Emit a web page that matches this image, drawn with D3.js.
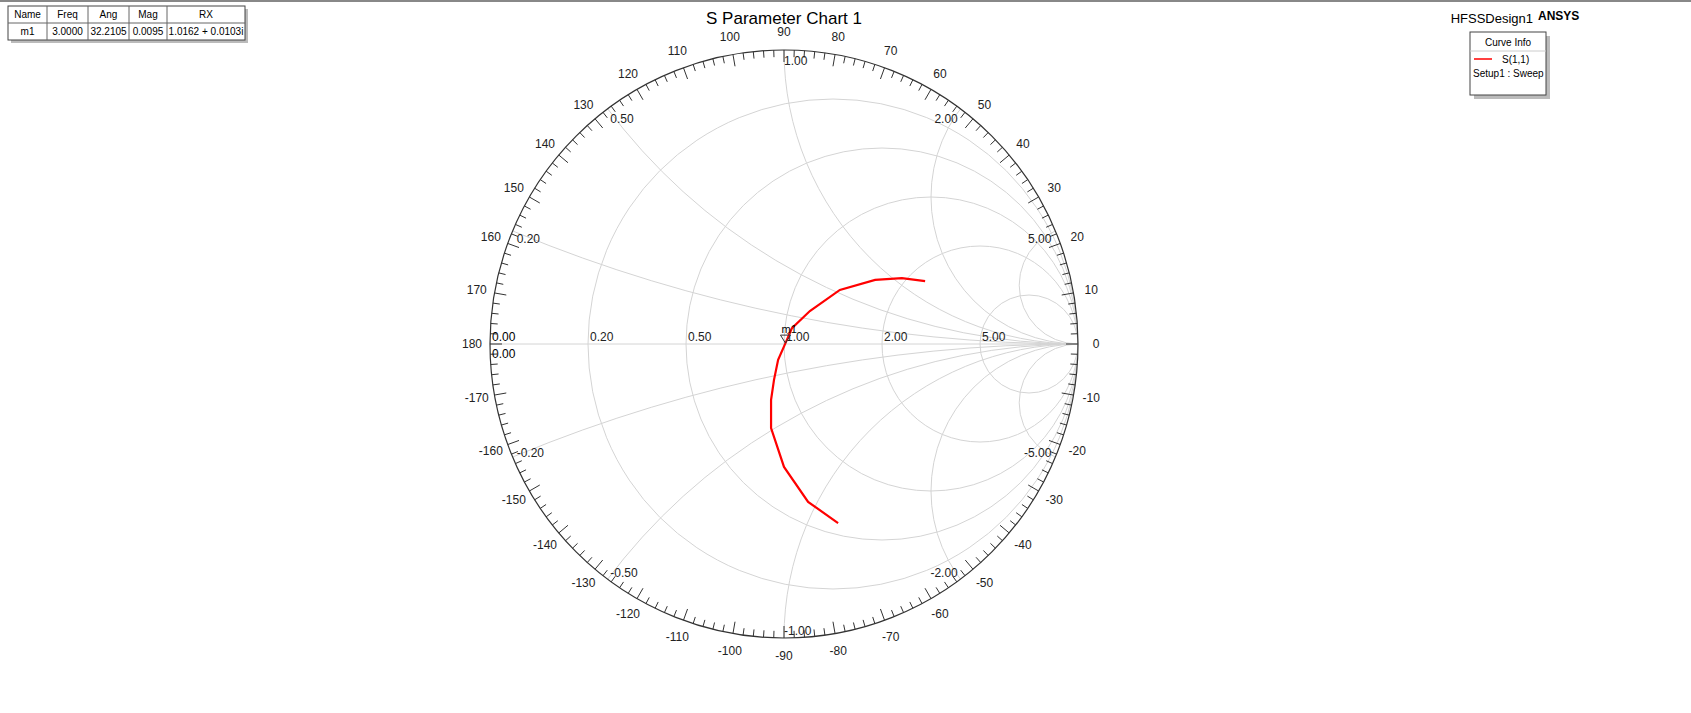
<!DOCTYPE html>
<html><head><meta charset="utf-8">
<script src="https://cdn.jsdelivr.net/npm/d3@7"></script>
<style>body{margin:0;background:#fff;font-family:Arial,"Liberation Sans",sans-serif}</style>
</head><body><svg id="c" width="1691" height="713"></svg>
<script>
const gammaRe=[0.184,0.082,0.000,-0.044,-0.044,-0.034,-0.020,0.005,0.027,0.088,0.190,0.310,0.401,0.480];
const gammaIm=[-0.609,-0.537,-0.418,-0.286,-0.190,-0.122,-0.054,0.003,0.054,0.112,0.184,0.218,0.224,0.214];
const resistances=[0.2,0.5,1,2,5];
const reactances=[0.2,0.5,1,2,5];
const angleTicks=d3.range(-170,181,10);
const markerRow=["m1","3.0000","32.2105","0.0095","1.0162 + 0.0103i"];
const tableHead=["Name","Freq","Ang","Mag","RX"];

const svg=d3.select("#c");
const cx=784,cy=344,R=294;
const sx=d3.scaleLinear().domain([-1,1]).range([cx-R,cx+R]);
const sy=d3.scaleLinear().domain([-1,1]).range([cy+R,cy-R]);
const k=R;
svg.append("line").attr("x1",0).attr("x2",1691).attr("y1",1).attr("y2",1).attr("stroke","#888").attr("stroke-width",2);
svg.append("defs").append("clipPath").attr("id","uc").append("circle").attr("cx",cx).attr("cy",cy).attr("r",R);
const g=svg.append("g").attr("clip-path","url(#uc)");
const grid="#d4d4d4";
g.append("line").attr("x1",sx(-1)).attr("x2",sx(1)).attr("y1",sy(0)).attr("y2",sy(0)).attr("stroke",grid);
resistances.forEach(r=>{g.append("circle").attr("cx",sx(r/(1+r))).attr("cy",sy(0)).attr("r",k/(1+r)).attr("fill","none").attr("stroke",grid);});
reactances.forEach(x=>{[1,-1].forEach(s=>{g.append("circle").attr("cx",sx(1)).attr("cy",sy(s/x)).attr("r",k/x).attr("fill","none").attr("stroke",grid);});});
svg.append("circle").attr("cx",cx).attr("cy",cy).attr("r",R).attr("fill","none").attr("stroke","#333").attr("stroke-width",1.2);
d3.range(-180,180,2).forEach(a=>{const t=a*Math.PI/180;const L=(a%10===0)?12:7;
 svg.append("line").attr("x1",sx(Math.cos(t))).attr("y1",sy(Math.sin(t))).attr("x2",sx(Math.cos(t)*(1-L/R))).attr("y2",sy(Math.sin(t)*(1-L/R))).attr("stroke","#333");});
angleTicks.forEach(a=>{const t=a*Math.PI/180;const rr=1+18/R;
 svg.append("text").attr("x",sx(Math.cos(t)*rr)).attr("y",sy(Math.sin(t)*rr)).attr("dy","0.35em").attr("text-anchor","middle").attr("font-size",12).attr("fill","#222").text(a);});
svg.append("text").attr("x",sx(-1)+2).attr("y",sy(0)-3).attr("font-size",12).text("0.00");
svg.append("text").attr("x",sx(-1)+2).attr("y",sy(0)+14).attr("font-size",12).text("0.00");
resistances.forEach(r=>{svg.append("text").attr("x",sx((r-1)/(r+1))+2).attr("y",sy(0)-3).attr("font-size",12).attr("fill","#222").text(r.toFixed(2));});
reactances.forEach(x=>{[1,-1].forEach(s=>{const re=(x*x-1)/(x*x+1),im=s*2*x/(x*x+1);
 const px=sx(re*0.985),py=sy(im*0.985);
 svg.append("text").attr("x",px).attr("y",py).attr("dy",s>0?"0.9em":"0.1em").attr("text-anchor",x<=1?"start":"end")
 .attr("font-size",12).attr("fill","#222").text((s*x).toFixed(2));});});
const pts=gammaRe.map((r,i)=>[sx(r),sy(gammaIm[i])]);
svg.append("path").attr("d",d3.line()(pts)).attr("fill","none").attr("stroke","#f00").attr("stroke-width",2.2);
const mx=sx(gammaRe[7]),my=sy(gammaIm[7]);
svg.append("path").attr("d",`M${mx-5},${my-8}L${mx+5},${my-8}L${mx},${my}Z`).attr("fill","none").attr("stroke","#333");
svg.append("text").attr("x",mx-4).attr("y",my-10).attr("font-size",11).text("m1");
svg.append("text").attr("x",cx).attr("y",24).attr("text-anchor","middle").attr("font-size",17).text("S Parameter Chart 1");
svg.append("text").attr("x",1533).attr("y",23).attr("text-anchor","end").attr("font-size",13).text("HFSSDesign1");
svg.append("text").attr("x",1538).attr("y",20).attr("font-size",12).attr("font-weight","bold").text("ANSYS");
const cw=[39,41,41,38,78],tx0=8,ty0=6,rh=17;
svg.append("rect").attr("x",tx0+3).attr("y",ty0+3).attr("width",d3.sum(cw)).attr("height",rh*2).attr("fill","#bbb");
svg.append("rect").attr("x",tx0).attr("y",ty0).attr("width",d3.sum(cw)).attr("height",rh*2).attr("fill","#fff").attr("stroke","#444");
let xx=tx0;
cw.forEach((w,i)=>{ if(i>0) svg.append("line").attr("x1",xx).attr("x2",xx).attr("y1",ty0).attr("y2",ty0+rh*2).attr("stroke","#666");
 svg.append("text").attr("x",xx+w/2).attr("y",ty0+12).attr("text-anchor","middle").attr("font-size",10).text(tableHead[i]);
 svg.append("text").attr("x",xx+w/2).attr("y",ty0+rh+12).attr("text-anchor","middle").attr("font-size",10).text(markerRow[i]);
 xx+=w;});
svg.append("line").attr("x1",tx0).attr("x2",xx).attr("y1",ty0+rh).attr("y2",ty0+rh).attr("stroke","#666");
const lx=1470,ly=32,lw=76,lh=63;
svg.append("rect").attr("x",lx+4).attr("y",ly+4).attr("width",lw).attr("height",lh).attr("fill","#bbb");
svg.append("rect").attr("x",lx).attr("y",ly).attr("width",lw).attr("height",lh).attr("fill","#fff").attr("stroke","#444");
svg.append("line").attr("x1",lx).attr("x2",lx+lw).attr("y1",ly+19).attr("y2",ly+19).attr("stroke","#ccc");
svg.append("text").attr("x",lx+lw/2).attr("y",ly+14).attr("text-anchor","middle").attr("font-size",10).text("Curve Info");
svg.append("line").attr("x1",lx+4).attr("x2",lx+22).attr("y1",ly+27).attr("y2",ly+27).attr("stroke","#f00").attr("stroke-width",1.5);
svg.append("text").attr("x",lx+32).attr("y",ly+31).attr("font-size",10).text("S(1,1)");
svg.append("text").attr("x",lx+3).attr("y",ly+45).attr("font-size",10).text("Setup1 : Sweep");
</script></body></html>
